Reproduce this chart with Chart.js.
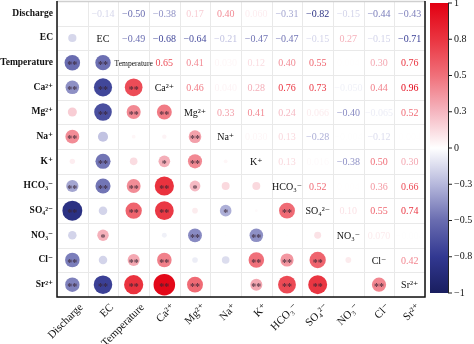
<!DOCTYPE html>
<html><head><meta charset="utf-8">
<script src="https://cdn.jsdelivr.net/npm/chart.js@4.4.0/dist/chart.umd.min.js"></script>
<style>html,body{margin:0;padding:0;background:#fff}</style>
</head><body>
<canvas id="c" width="474" height="344" style="width:474px;height:344px;display:block"></canvas>
<script>
// ---- DATA ----
const variables = ['Discharge','EC','Temperature','Ca²⁺','Mg²⁺','Na⁺','K⁺','HCO₃⁻','SO₄²⁻','NO₃⁻','Cl⁻','Sr²⁺'];
// names written on the diagonal cells (the first one is left blank in the original)
const diagonalNames = ['','EC','Temperature','Ca²⁺','Mg²⁺','Na⁺','K⁺','HCO₃⁻','SO₄²⁻','NO₃⁻','Cl⁻','Sr²⁺'];
// upper-triangle correlation coefficients, row by row (columns to the right of the diagonal)
const rDischarge   = [-0.14,-0.50,-0.38,0.17,0.40,0.06,-0.31,-0.82,-0.15,-0.44,-0.43];
const rEC          = [-0.49,-0.68,-0.64,-0.21,-0.47,-0.47,-0.15,0.27,-0.15,-0.71];
const rTemperature = [0.65,0.41,0.03,0.12,0.40,0.55,0.004,0.30,0.76];
const rCa          = [0.46,0.04,0.28,0.76,0.73,-0.05,0.44,0.96];
const rMg          = [0.33,0.41,0.24,0.066,-0.40,-0.065,0.52];
const rNa          = [0.03,0.13,-0.28,-0.004,-0.12,0.004];
const rK           = [0.13,0.016,-0.38,0.50,0.30];
const rHCO3        = [0.52,0.004,0.36,0.66];
const rSO4         = [0.10,0.55,0.74];
const rNO3         = [0.07,-0.004];
const rCl          = [0.42];
// significance marks for the lower triangle, row by row (columns left of the diagonal)
const sigEC          = [''];
const sigTemperature = ['**','**'];
const sigCa          = ['**','**','**'];
const sigMg          = ['','**','**','**'];
const sigNa          = ['**','','','','**'];
const sigK           = ['','**','','*','**',''];
const sigHCO3        = ['**','**','**','**','*','',''];
const sigSO4         = ['**','','**','**','','*','','**'];
const sigNO3         = ['','*','','','**','','**','',''];
const sigCl          = ['**','','**','**','','','**','**','**',''];
const sigSr          = ['**','**','**','**','**','','**','**','**','','**'];
// colour bar ticks
const cbTickValues = [1,0.75,0.5,0.25,0,-0.25,-0.5,-0.75,-1];
const cbTickLabels = ['1','0.8','0.5','0.3','0','\u22120.3','\u22120.5','\u22120.8','\u22121'];

// ---- BUILD ----
const upperRows = [rDischarge,rEC,rTemperature,rCa,rMg,rNa,rK,rHCO3,rSO4,rNO3,rCl,[]];
const sigRows = [[],sigEC,sigTemperature,sigCa,sigMg,sigNa,sigK,sigHCO3,sigSO4,sigNO3,sigCl,sigSr];
const N = variables.length;
function corr(i,j){ if(i===j) return 1; const a=Math.min(i,j), b=Math.max(i,j); return upperRows[a][b-a-1]; }

const stops = [[-1,[25,30,95]],[-0.75,[50,56,145]],[-0.5,[105,108,176]],[-0.25,[182,184,220]],[0,[255,255,255]],[0.25,[245,182,192]],[0.5,[240,112,122]],[0.75,[234,52,64]],[1,[226,0,18]]];
function cmap(v){
  v=Math.max(-1,Math.min(1,v));
  for(let k=0;k<stops.length-1;k++){
    const [a,ca]=stops[k],[b,cb]=stops[k+1];
    if(v>=a&&v<=b){const t=(v-a)/(b-a);return 'rgb('+ca.map((c,m)=>Math.round(c+(cb[m]-c)*t)).join(',')+')';}
  }
  return 'rgb(255,255,255)';
}
function fmt(v){const s=Math.abs(v)>=0.1?Math.abs(v).toFixed(2):Math.abs(v).toFixed(3);return (v<0?'\u2212':'')+s;}

const lowerData=[], upperData=[], diagData=[];
for(let i=0;i<N;i++){
  for(let j=0;j<N;j++){
    if(j<i) lowerData.push({x:j,y:i,v:corr(i,j),sig:sigRows[i][j]});
    else if(j>i) upperData.push({x:j,y:i,v:corr(i,j)});
    else diagData.push({x:j,y:i,label:diagonalNames[i]});
  }
}

const SERIF = '"Liberation Serif","DejaVu Serif",serif';

const cellPlugin = {
  id:'cells',
  afterLayout(chart){
    const y=chart.scales.y, ca=chart.chartArea;
    if(ca.top>1){
      ca.top=1; ca.height=ca.bottom-ca.top;
      y.top=1; y.height=y.bottom-y.top;
      if(typeof y.configure==='function') y.configure();
    }
  },
  beforeDatasetsDraw(chart){
    const {ctx, scales:{x,y}} = chart;
    ctx.save();
    ctx.strokeStyle='#e9e9e9'; ctx.lineWidth=1;
    const x0=x.getPixelForValue(-0.5), x1=x.getPixelForValue(N-0.5);
    const y0=y.getPixelForValue(-0.5), y1=y.getPixelForValue(N-0.5);
    for(let k=0;k<=N;k++){
      const px=Math.round(x.getPixelForValue(k-0.5))+0.5;
      ctx.beginPath();ctx.moveTo(px,y0);ctx.lineTo(px,y1);ctx.stroke();
      const py=Math.round(y.getPixelForValue(k-0.5))+0.5;
      ctx.beginPath();ctx.moveTo(x0,py);ctx.lineTo(x1,py);ctx.stroke();
    }
    ctx.restore();
  },
  afterDatasetsDraw(chart){
    const {ctx, scales:{x,y}} = chart;
    ctx.save();
    ctx.textAlign='center'; ctx.textBaseline='middle';
    ctx.font='bold 10px '+SERIF;
    chart.getDatasetMeta(0).data.forEach((el,k)=>{
      const d=lowerData[k]; if(!d.sig) return;
      ctx.fillStyle='rgba(55,35,50,0.78)';
      ctx.fillText(d.sig, el.x, el.y+3);
    });
    ctx.font='10px '+SERIF;
    chart.getDatasetMeta(1).data.forEach((el,k)=>{
      const d=upperData[k];
      ctx.fillStyle=cmap(d.v);
      ctx.fillText(fmt(d.v), el.x, el.y+1);
    });
    const cw = x.getPixelForValue(1)-x.getPixelForValue(0);
    chart.getDatasetMeta(2).data.forEach((el,k)=>{
      const d=diagData[k]; if(!d.label) return;
      let fs=10; ctx.font=fs+'px '+SERIF;
      let w=ctx.measureText(d.label).width;
      if(w>cw+8){fs=Math.floor(fs*(cw+8)/w*10)/10;ctx.font=fs+'px '+SERIF;}
      ctx.fillStyle='#111';
      ctx.fillText(d.label, el.x, el.y+1);
    });
    const x0=x.getPixelForValue(-0.5), x1=x.getPixelForValue(N-0.5);
    const y0=y.getPixelForValue(-0.5), y1=y.getPixelForValue(N-0.5);
    ctx.strokeStyle='#cfcfcf'; ctx.lineWidth=1.5;
    ctx.beginPath();ctx.moveTo(x0,y0+0.5);ctx.lineTo(x1,y0+0.5);ctx.stroke();
    ctx.strokeStyle='#111'; ctx.lineWidth=1.5;
    ctx.beginPath();ctx.moveTo(x0,y0);ctx.lineTo(x0,y1);ctx.lineTo(x1,y1);ctx.lineTo(x1,y0);ctx.stroke();
    const bx=x1+5, bw=18, bt=y0+2, bb=y1-4;
    const g=ctx.createLinearGradient(0,bt,0,bb);
    stops.forEach(([v])=>g.addColorStop((1-v)/2, cmap(v)));
    ctx.fillStyle=g; ctx.fillRect(bx,bt,bw,bb-bt);
    ctx.strokeStyle='#222'; ctx.lineWidth=1;
    ctx.beginPath();ctx.moveTo(bx+bw+0.5,bt);ctx.lineTo(bx+bw+0.5,bb);ctx.stroke();
    ctx.font='10px '+SERIF; ctx.textAlign='left'; ctx.fillStyle='#111';
    cbTickValues.forEach((v,k)=>{
      const py=bt+(1-v)/2*(bb-bt);
      ctx.beginPath();ctx.moveTo(bx+bw,py);ctx.lineTo(bx+bw+4,py);ctx.stroke();
      ctx.fillText(cbTickLabels[k], bx+bw+6, py);
    });
    ctx.restore();
  }
};

function zeroY(s){s.width=57;s.paddingTop=0;s.paddingBottom=0;}
function zeroX(s){s.height=47;s.paddingLeft=0;s.paddingRight=0;}

new Chart(document.getElementById('c'),{
  type:'scatter',
  data:{datasets:[
    {data:lowerData, pointRadius:c=>c.raw?11*Math.sqrt(Math.abs(c.raw.v)):0, pointBackgroundColor:c=>c.raw?cmap(c.raw.v):'#fff', pointBorderWidth:0, pointBorderColor:'rgba(0,0,0,0)'},
    {data:upperData, pointRadius:0},
    {data:diagData, pointRadius:0}
  ]},
  options:{
    responsive:false, animation:false, devicePixelRatio:1,
    events:[],
    layout:{padding:{left:0,right:49,top:1,bottom:0}},
    plugins:{legend:{display:false},tooltip:{enabled:false}},
    scales:{
      x:{type:'linear',min:-0.5,max:N-0.5,
        grid:{display:false,drawTicks:false},border:{display:false},
        afterBuildTicks:s=>{s.ticks=variables.map((_,i)=>({value:i}));},
        afterFit:zeroX,
        ticks:{autoSkip:false,maxRotation:45,minRotation:45,padding:4,labelOffset:9,color:'#111',
          font:{family:SERIF,size:11},callback:v=>variables[v]}},
      y:{type:'linear',reverse:true,min:-0.5,max:N-0.5,
        grid:{display:false,drawTicks:false},border:{display:false},
        afterBuildTicks:s=>{s.ticks=variables.map((_,i)=>({value:i}));},
        afterFit:zeroY,
        ticks:{autoSkip:false,padding:4,color:'#111',
          font:{family:SERIF,size:9.5,weight:'bold'},callback:v=>variables[v]}}
    }
  },
  plugins:[cellPlugin]
});
</script>
</body></html>
